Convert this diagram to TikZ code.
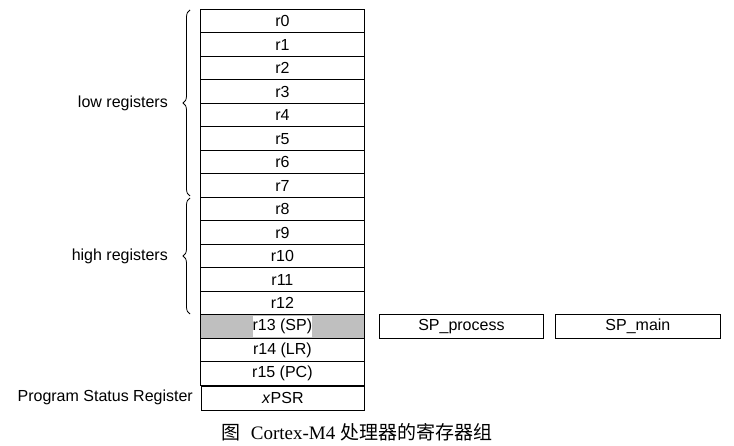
\documentclass[tikz,border=0pt]{standalone}
\usepackage{fontspec}
\setmainfont{Liberation Sans}
\newfontfamily\serifF{Liberation Serif}
\newfontfamily\cjk{Noto Sans CJK SC}
\usetikzlibrary{decorations.pathreplacing}
\begin{document}
\begin{tikzpicture}[x=1pt,y=-1pt,
  reg/.style={draw=black,line width=0.8pt,minimum width=164pt,minimum height=23.5pt,inner sep=0pt,font=\fontsize{16}{18}\selectfont,anchor=north west},
  lbl/.style={font=\fontsize{16}{18}\selectfont,anchor=east,inner sep=0pt},
  br/.style={decorate,decoration={brace,amplitude=7pt},line width=0.8pt}]
\useasboundingbox (0,0) rectangle (734,446);
\foreach \i in {0,...,12}{
  \node[reg] (r\i) at (200,{9+23.5*\i}) {r\i};
}
\node[reg,fill=black!25] (r13) at (200,314.5) {\colorbox{white}{\hspace{-3pt}r13 (SP)\hspace{-3pt}}};
\node[reg] (r14) at (200,338) {r14 (LR)};
\node[reg] (r15) at (200,361.5) {r15 (PC)};
\node[reg,minimum width=163pt] (psr) at (201,386) {\textit{x}PSR};
\node[reg] (spp) at (379,314.5) {SP\_process};
\node[reg,minimum width=165pt] (spm) at (555,314.5) {SP\_main};
\coordinate (lt) at (190,10); \coordinate (lb) at (190,196);
\coordinate (ht) at (190,198); \coordinate (hb) at (190,314);
\draw[br] (lb) -- (lt);
\draw[br] (hb) -- (ht);
\node[lbl] (low) at (168,103) {low registers};
\node[lbl] (high) at (168,256) {high registers};
\node[lbl] (psl) at (193,397) {Program Status Register};
\node[font=\fontsize{19}{22}\selectfont] (cap) at (357,432) {{\cjk 图}\ \ {\serifF Cortex-M4} {\cjk 处理器的寄存器组}};
\end{tikzpicture}
\end{document}
